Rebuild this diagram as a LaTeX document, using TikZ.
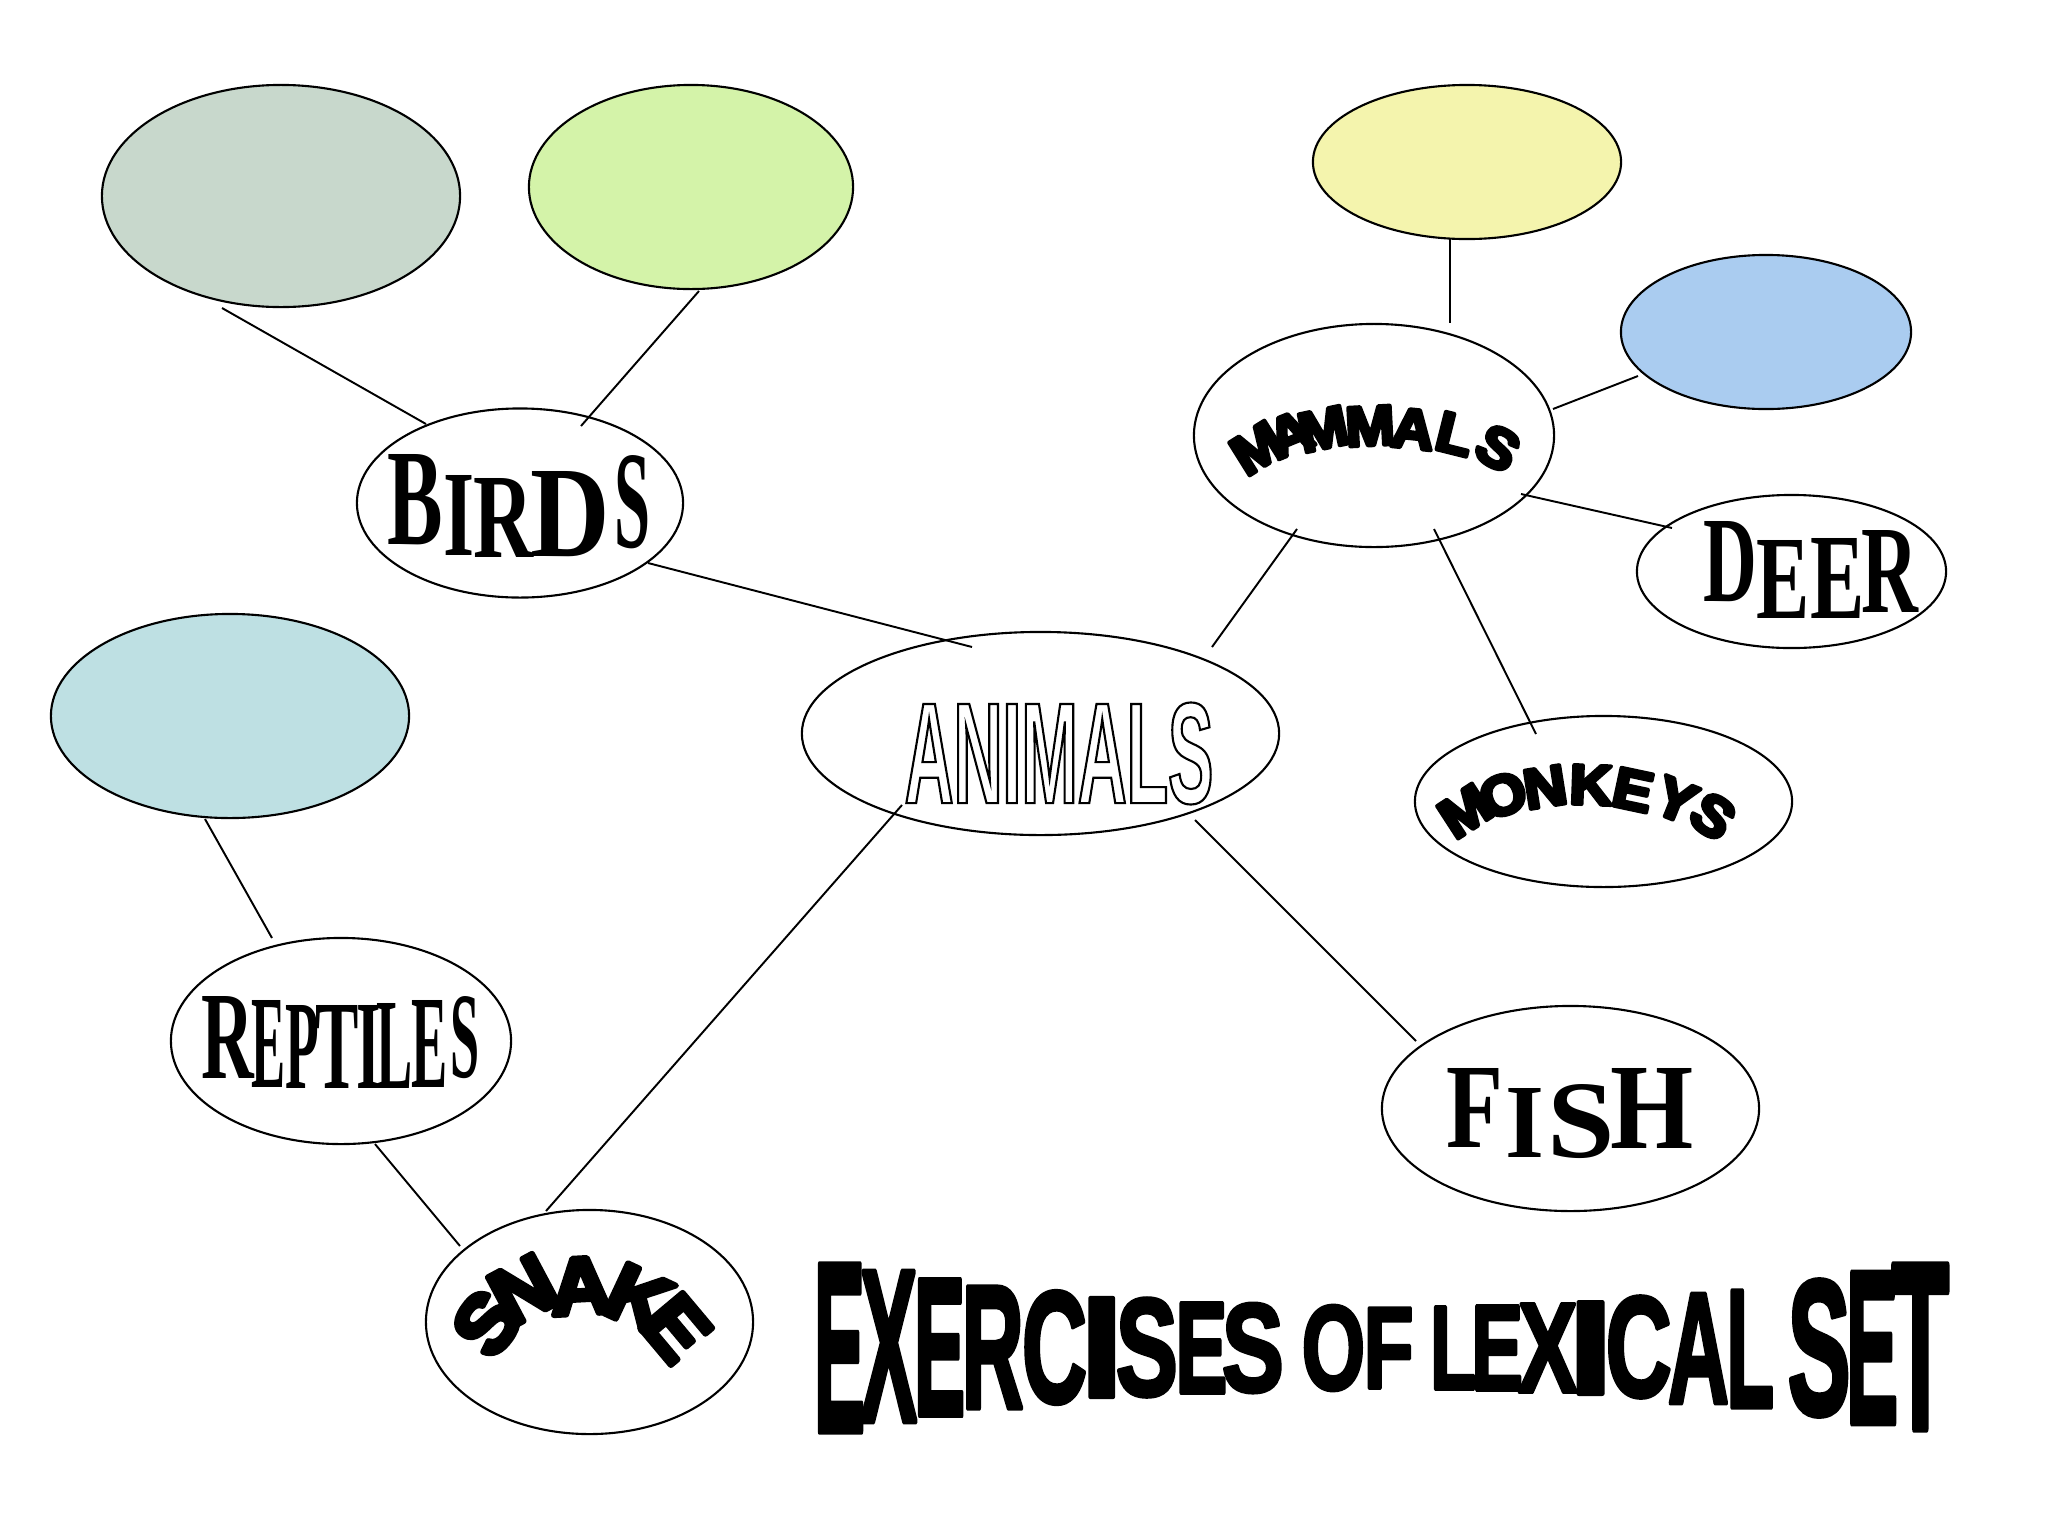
\documentclass[tikz,border=0pt]{standalone}
\usepackage{fontspec}
\usepackage{graphicx}
\usetikzlibrary{shapes.geometric,calc}
\setmainfont{Liberation Serif}
\newfontfamily\serifw{Liberation Serif}
\newfontfamily\blackw[FakeBold=7]{Liberation Sans}
\newfontfamily\impw[FakeBold=3]{Liberation Sans}
\newfontfamily\animw[FakeStretch=0.47]{Liberation Sans}
\newcommand\rjoin{\special{pdf:literal direct 1 j}}
\newcommand\swf{\serifw\bfseries}
\newcommand\tif{\rjoin\impw\bfseries}
\newcommand\arcf[1]{\scalebox{1.05}[1]{\rjoin\fontsize{16pt}{16pt}\blackw\bfseries #1}}
\newcommand\snf[1]{\scalebox{1.05}[1]{\rjoin\fontsize{23pt}{23pt}\blackw\bfseries #1}}
\definecolor{cgray}{RGB}{200,216,204}
\definecolor{cgreen}{RGB}{212,243,169}
\definecolor{cyellow}{RGB}{244,244,173}
\definecolor{cblue}{RGB}{170,204,240}
\definecolor{cteal}{RGB}{190,224,227}
% name, x1, x2, y1, y2, ink ratio, font, letter
\newcommand\boxletter[8]{%
  \pgfmathsetlengthmacro\bxw{(#3-#2)*0.01cm/#6}%
  \pgfmathsetlengthmacro\bxh{(#5-#4)*0.01cm}%
  \node[inner sep=0pt] (#1) at ({(#2+#3)/2},{(#4+#5)/2}) {\resizebox{\bxw}{\bxh}{#7#8}};}
\tikzset{
  ell/.style={ellipse, draw=black, line width=0.6pt, inner sep=0pt},
  conn/.style={line width=0.55pt, draw=black},
  arcl/.style={inner sep=0pt}
}
\begin{document}
\begin{tikzpicture}[x=0.01cm,y=-0.01cm]
\path[use as bounding box, fill=white] (0,0) rectangle (2048,1536);
% ellipses
\node[ell, fill=cgray, minimum width=3.58cm, minimum height=2.22cm] (gray) at (281,196) {};
\node[ell, fill=cgreen, minimum width=3.24cm, minimum height=2.04cm] (green) at (691,187) {};
\node[ell, minimum width=3.26cm, minimum height=1.89cm] (birds) at (520,503) {};
\node[ell, fill=cyellow, minimum width=3.08cm, minimum height=1.54cm] (yellow) at (1467,162) {};
\node[ell, fill=cblue, minimum width=2.90cm, minimum height=1.54cm] (blue) at (1766,332) {};
\node[ell, minimum width=3.60cm, minimum height=2.23cm] (mammals) at (1374,435.5) {};
\node[ell, minimum width=3.09cm, minimum height=1.53cm] (deer) at (1791.5,571.5) {};
\node[ell, minimum width=4.77cm, minimum height=2.03cm] (animals) at (1040.5,733.5) {};
\node[ell, fill=cteal, minimum width=3.58cm, minimum height=2.04cm] (teal) at (230,716) {};
\node[ell, minimum width=3.77cm, minimum height=1.71cm] (monkeys) at (1603.5,801.5) {};
\node[ell, minimum width=3.40cm, minimum height=2.06cm] (reptiles) at (341,1041) {};
\node[ell, minimum width=3.77cm, minimum height=2.05cm] (fish) at (1570.5,1108.5) {};
\node[ell, minimum width=3.27cm, minimum height=2.24cm] (snake) at (589.5,1322) {};
% outlined ANIMALS
\node[inner sep=0pt] (animt) at (1059,753.5) {\fontsize{41pt}{41pt}\animw\bfseries\special{pdf:literal direct 1 Tr 0.6 w}ANIMALS\special{pdf:literal direct 0 Tr}};
% connectors
\draw[conn] ($(gray.center)+(-59,112)$) -- ($(birds.center)+(-94,-79)$);
\draw[conn] ($(green.center)+(8,104)$) -- ($(birds.center)+(61,-77)$);
\draw[conn] ($(birds.center)+(128,60)$) -- ($(animals.center)+(-68.5,-86.5)$);
\draw[conn] ($(mammals.center)+(-77,93.5)$) -- ($(animals.center)+(171.5,-86.5)$);
\draw[conn] ($(yellow.center)+(-17,77)$) -- ($(mammals.center)+(76,-112.5)$);
\draw[conn] ($(blue.center)+(-128,44)$) -- ($(mammals.center)+(179,-26.5)$);
\draw[conn] ($(mammals.center)+(147,58.5)$) -- ($(deer.center)+(-119.5,-43.5)$);
\draw[conn] ($(mammals.center)+(60,93.5)$) -- ($(monkeys.center)+(-67.5,-67.5)$);
\draw[conn] ($(animals.center)+(154.5,86.5)$) -- ($(fish.center)+(-154.5,-67.5)$);
\draw[conn] ($(animals.center)+(-138.5,71.5)$) -- ($(snake.center)+(-43.5,-111)$);
\draw[conn] ($(teal.center)+(-25,103)$) -- ($(reptiles.center)+(-69,-103)$);
\draw[conn] ($(reptiles.center)+(34,103)$) -- ($(snake.center)+(-129.5,-76)$);
% BIRDS
\boxletter{b1}{390}{440}{455}{545}{0.9}{\swf}{B}
\boxletter{b2}{445}{473}{475}{555}{0.9}{\swf}{I}
\boxletter{b3}{475}{532}{478}{557}{0.95}{\swf}{R}
\boxletter{b4}{533}{607}{472}{557}{0.93}{\swf}{D}
\boxletter{b5}{617}{648}{456}{548}{0.86}{\swf}{S}
% DEER
\boxletter{d1}{1705}{1755}{522}{602}{0.93}{\swf}{D}
\boxletter{d2}{1758}{1808}{540}{618}{0.94}{\swf}{E}
\boxletter{d3}{1812}{1863}{538}{618}{0.94}{\swf}{E}
\boxletter{d4}{1863}{1917}{530}{612}{0.95}{\swf}{R}
% REPTILES
\boxletter{r1}{203}{253}{996}{1078}{0.95}{\swf}{R}
\boxletter{r2}{253}{285}{1000}{1087}{0.94}{\swf}{E}
\boxletter{r3}{286}{318}{1005}{1088}{0.95}{\swf}{P}
\boxletter{r4}{318}{357}{1005}{1088}{0.9}{\swf}{T}
\boxletter{r5}{358}{380}{1005}{1088}{0.9}{\swf}{I}
\boxletter{r6}{378}{412}{1003}{1088}{0.94}{\swf}{L}
\boxletter{r7}{413}{447}{1000}{1087}{0.94}{\swf}{E}
\boxletter{r8}{453}{478}{997}{1078}{0.86}{\swf}{S}
% FISH
\boxletter{f1}{1448}{1502}{1068}{1147}{0.95}{\swf}{F}
\boxletter{f2}{1507}{1542}{1088}{1157}{0.9}{\swf}{I}
\boxletter{f3}{1552}{1610}{1085}{1158}{0.86}{\swf}{S}
\boxletter{f4}{1613}{1692}{1068}{1148}{0.95}{\swf}{H}
% MAMMALS
\node[arcl, rotate=32] (m1) at (1257,448) {\arcf{M}};
\node[arcl, rotate=22] (m2) at (1290,434) {\arcf{A}};
\node[arcl, rotate=12] (m3) at (1323,429) {\arcf{M}};
\node[arcl, rotate=3] (m4) at (1370,426) {\arcf{M}};
\node[arcl, rotate=-6] (m5) at (1413,429) {\arcf{A}};
\node[arcl, rotate=-14] (m6) at (1455,434) {\arcf{L}};
\node[arcl, rotate=-30] (m7) at (1498,448) {\arcf{S}};
% MONKEYS
\node[arcl, rotate=33] (k1) at (1465,811) {\arcf{M}};
\node[arcl, rotate=20] (k2) at (1503,795) {\arcf{O}};
\node[arcl, rotate=9] (k3) at (1545,787) {\arcf{N}};
\node[arcl, rotate=-2] (k4) at (1591,785) {\arcf{K}};
\node[arcl, rotate=-12] (k5) at (1633,790) {\arcf{E}};
\node[arcl, rotate=-22] (k6) at (1676,800) {\arcf{Y}};
\node[arcl, rotate=-35] (k7) at (1713,816) {\arcf{S}};
% SNAKE
\node[arcl, rotate=55] (s1) at (487,1323) {\snf{S}};
\node[arcl, rotate=28] (s2) at (523,1290) {\snf{N}};
\node[arcl, rotate=3] (s3) at (581,1286) {\snf{A}};
\node[arcl, rotate=-25] (s4) at (639,1299) {\snf{K}};
\node[arcl, rotate=-50] (s5) at (676,1328) {\snf{E}};
% title
\boxletter{t1}{818.4}{860.5}{1265}{1431}{0.82}{\tif}{E}
\boxletter{t2}{860.5}{916.7}{1272}{1421}{0.99}{\tif}{X}
\boxletter{t3}{918.6}{960.7}{1280}{1415}{0.82}{\tif}{E}
\boxletter{t4}{965.3}{1020}{1287}{1408}{0.88}{\tif}{R}
\boxletter{t5}{1025.8}{1083.2}{1292}{1403}{0.88}{\tif}{C}
\boxletter{t6}{1088.9}{1114.5}{1298}{1397}{0.6}{\tif}{I}
\boxletter{t7}{1119.5}{1174.2}{1299}{1396}{0.88}{\tif}{S}
\boxletter{t8}{1180}{1222.8}{1303}{1393}{0.82}{\tif}{E}
\boxletter{t9}{1225.5}{1280.2}{1304}{1392}{0.88}{\tif}{S}
\boxletter{t10}{1305.1}{1361.7}{1306}{1390}{0.89}{\tif}{O}
\boxletter{t11}{1368.3}{1408.7}{1308}{1388}{0.80}{\tif}{F}
\boxletter{t12}{1433.6}{1472.6}{1307}{1389}{0.84}{\tif}{L}
\boxletter{t13}{1475.7}{1518.5}{1306}{1390}{0.82}{\tif}{E}
\boxletter{t14}{1518.5}{1577.1}{1304}{1392}{0.99}{\tif}{X}
\boxletter{t15}{1577.1}{1603.9}{1302}{1394}{0.6}{\tif}{I}
\boxletter{t16}{1609.6}{1667.8}{1297}{1397}{0.88}{\tif}{C}
\boxletter{t17}{1667.8}{1729}{1294}{1403}{1.0}{\tif}{A}
\boxletter{t18}{1730.1}{1770.3}{1291}{1407}{0.84}{\tif}{L}
\boxletter{t19}{1791.4}{1846.8}{1281}{1415}{0.88}{\tif}{S}
\boxletter{t20}{1850.7}{1893.5}{1273}{1423}{0.82}{\tif}{E}
\boxletter{t21}{1893.5}{1947.1}{1265}{1429}{0.93}{\tif}{T}
\end{tikzpicture}
\end{document}
